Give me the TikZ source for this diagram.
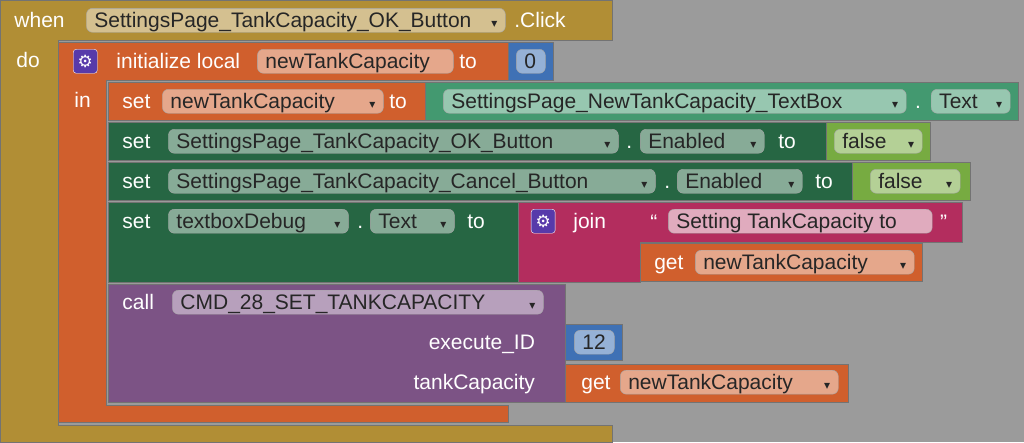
\documentclass[tikz,border=0pt]{standalone}
\usepackage{fontspec}
\setmainfont{Liberation Sans}
\newfontfamily\dv{DejaVu Sans}
\definecolor{bg}{HTML}{9B9B9B}
\definecolor{gold}{HTML}{B18E35}
\definecolor{orng}{HTML}{D05F2D}
\definecolor{dgrn}{HTML}{266643}
\definecolor{tgrn}{HTML}{439970}
\definecolor{lgrn}{HTML}{77AB41}
\definecolor{mblu}{HTML}{3F71B5}
\definecolor{pink}{HTML}{B32D5E}
\definecolor{purp}{HTML}{7C5385}
\tikzset{x=1pt,y=-1pt,
 blk/.style={draw=black!55,line width=0.6pt},
 lab/.style={text=white,font=\fontsize{21}{22}\selectfont,anchor=west,inner sep=0pt,text height=17pt,text depth=3pt},
 fld/.style={draw=black!35,fill=white,fill opacity=0.45,text opacity=1,rounded corners=6pt,font=\fontsize{21}{22}\selectfont,anchor=west,inner xsep=8pt,inner ysep=2pt,text height=17pt,text depth=3pt,text=black!85},
 txf/.style={fld,fill opacity=0.6},
 gear/.style={fill=purp!70!blue,draw=white,rounded corners=3pt,minimum size=24pt,inner sep=0pt,text=white,font=\dv\fontsize{17}{17}\selectfont}}
\newcommand{\dd}{\hfill{\dv\fontsize{12}{12}\selectfont ▾}}
\newcommand{\mb}[2]{\makebox[#1pt][l]{#2}}
\begin{document}
\begin{tikzpicture}
\fill[bg] (0,0) rectangle (1024,442);
% gold event
\filldraw[blk,fill=gold] (0,0) -- (612,0) -- (612,40) -- (58,40) -- (58,425) -- (612,425) -- (612,442) -- (0,442) -- cycle;
\node[lab] (when) at (14,20) {when};
\node[lab] (do) at (16,60) {do};
\node[fld] (btn) at (86,20) {\mb{403}{SettingsPage\_TankCapacity\_OK\_Button\dd}};
\node[lab] (click) at (514,20) {.Click};
% orange initialize
\filldraw[blk,fill=orng] (58,42) -- (508,42) -- (508,80) -- (106,80) -- (106,405) -- (508,405) -- (508,422) -- (58,422) -- cycle;
\node[gear] (gear1) at (85,61) {⚙};
\node[lab] (init) at (116,61) {initialize local};
\node[fld] (nv) at (257,61) {\mb{180}{newTankCapacity}};
\node[lab] (to1) at (459,61) {to};
\filldraw[blk,fill=mblu] (508,42) rectangle (553,80);
\node[fld] (zero) at (516,61) {\mb{13}{0}};
\node[lab] (in) at (74,100) {in};
% set newTankCapacity
\filldraw[blk,fill=orng] (108,82) rectangle (425,120);
\node[lab] (set1) at (122,101) {set};
\node[fld] (v1) at (162,101) {\mb{205}{newTankCapacity\dd}};
\node[lab] (to2) at (389,101) {to};
\filldraw[blk,fill=tgrn] (425,82) rectangle (1018,120);
\node[fld] (tb) at (443,101) {\mb{447}{SettingsPage\_NewTankCapacity\_TextBox\dd}};
\node[lab] (dot1) at (915,101) {.};
\node[fld] (txt1) at (931,101) {\mb{63}{Text\dd}};
% set OK enabled
\filldraw[blk,fill=dgrn] (108,122) rectangle (826,160);
\node[lab] (set2) at (122,141) {set};
\node[fld] (c2) at (168,141) {\mb{434}{SettingsPage\_TankCapacity\_OK\_Button\dd}};
\node[lab] (dot2) at (626,141) {.};
\node[fld] (e2) at (640,141) {\mb{108}{Enabled\dd}};
\node[lab] (to3) at (778,141) {to};
\filldraw[blk,fill=lgrn] (826,122) rectangle (930,160);
\node[fld] (f2) at (834,141) {\mb{72}{false\dd}};
% set Cancel enabled
\filldraw[blk,fill=dgrn] (108,162) rectangle (852,200);
\node[lab] (set3) at (122,181) {set};
\node[fld] (c3) at (168,181) {\mb{471}{SettingsPage\_TankCapacity\_Cancel\_Button\dd}};
\node[lab] (dot3) at (664,181) {.};
\node[fld] (e3) at (677,181) {\mb{109}{Enabled\dd}};
\node[lab] (to4) at (815,181) {to};
\filldraw[blk,fill=lgrn] (852,162) rectangle (970,200);
\node[fld] (f3) at (870,181) {\mb{74}{false\dd}};
% set textboxDebug
\filldraw[blk,fill=dgrn] (108,202) rectangle (518,282);
\node[lab] (set4) at (122,221) {set};
\node[fld] (c4) at (168,221) {\mb{164}{textboxDebug\dd}};
\node[lab] (dot4) at (357,221) {.};
\node[fld] (t4) at (370,221) {\mb{68}{Text\dd}};
\node[lab] (to5) at (467,221) {to};
\filldraw[blk,fill=pink] (518,202) -- (962,202) -- (962,242) -- (640,242) -- (640,282) -- (518,282) -- cycle;
\node[gear] (gear2) at (543,221) {⚙};
\node[lab] (join) at (573,221) {join};
\node[lab] (q1) at (650,222) {“};
\node[txf] (str) at (668,221) {\mb{248}{Setting TankCapacity to}};
\node[lab] (q2) at (940,222) {”};
\filldraw[blk,fill=orng] (640,243) rectangle (922,281);
\node[lab] (get1) at (654,262) {get};
\node[fld] (g1) at (695,262) {\mb{203}{newTankCapacity\dd}};
% call
\filldraw[blk,fill=purp] (108,284) rectangle (565,402);
\node[lab] (call) at (122,302) {call};
\node[fld] (proc) at (172,302) {\mb{355}{CMD\_28\_SET\_TANKCAPACITY\dd}};
\node[lab,anchor=east] (eid) at (535,342) {execute\_ID};
\node[lab,anchor=east] (tc) at (535,382) {tankCapacity};
\filldraw[blk,fill=mblu] (565,324) rectangle (622,360);
\node[fld] (n12) at (574,342) {\mb{24}{12}};
\filldraw[blk,fill=orng] (565,364) rectangle (848,402);
\node[lab] (get2) at (581,382) {get};
\node[fld] (g2) at (620,382) {\mb{202}{newTankCapacity\dd}};
\end{tikzpicture}
\end{document}
